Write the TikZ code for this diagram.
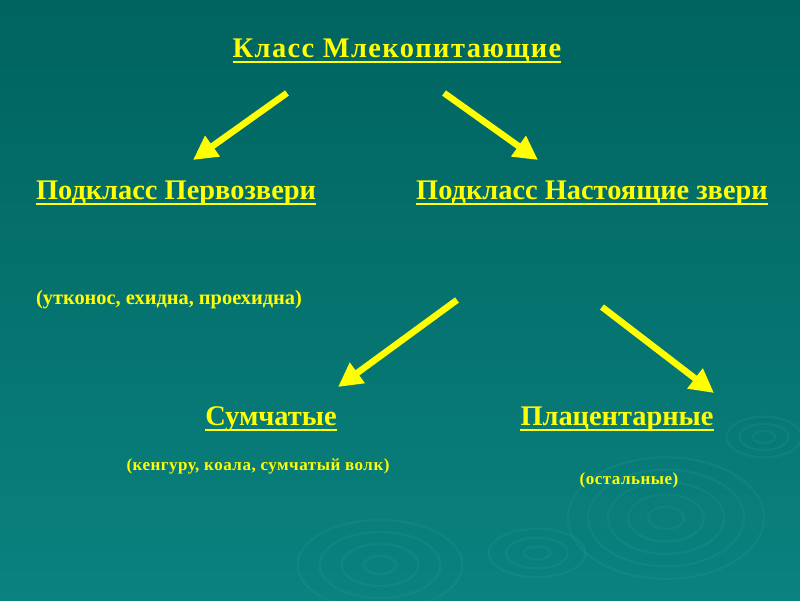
\documentclass[tikz,border=0pt]{standalone}
\usepackage{fontspec}
\setmainfont{Liberation Serif}
\usetikzlibrary{arrows.meta}
\definecolor{bgtop}{HTML}{00635F}
\definecolor{bgbot}{HTML}{0A827F}
\definecolor{txt}{HTML}{FFFF00}
\definecolor{ripple}{HTML}{3FA7A5}
\tikzset{
  head/.style={inner sep=0pt, anchor=base, text=txt, font=\bfseries\fontsize{28.4}{32}\selectfont},
  title/.style={inner sep=0pt, anchor=base, text=txt, font=\bfseries\fontsize{28.4}{32}\selectfont\addfontfeatures{LetterSpace=5}},
  note/.style={inner sep=0pt, anchor=base, text=txt, font=\bfseries\fontsize{20.4}{24}\selectfont},
  smallnote/.style={inner sep=0pt, anchor=base, text=txt, font=\bfseries\fontsize{17}{20}\selectfont\addfontfeatures{LetterSpace=3}},
  uline/.style={draw=txt, line width=2.2pt},
  arr/.style={draw=txt, line width=6.5pt, -{Triangle[length=24pt,width=24pt]}, shorten >=0pt},
  rip/.style={draw=ripple, line width=2.2pt, opacity=0.14},
}
\begin{document}
\begin{tikzpicture}[x=1pt,y=-1pt]
\useasboundingbox (0,0) rectangle (800,600);
\shade[top color=bgtop, bottom color=bgbot] (0,0) rectangle (800,600);
% ripples
\foreach \r in {18,38,58,78,98}{\draw[rip] (666,518) ellipse ({\r*1.0} and {\r*0.62});}
\foreach \r in {10,22,34}{\draw[rip] (764,437) ellipse ({\r*1.1} and {\r*0.6});}
\foreach \r in {15,35,55,75}{\draw[rip] (380,565) ellipse ({\r*1.1} and {\r*0.6});}
\foreach \r in {12,28,44}{\draw[rip] (537,553) ellipse ({\r*1.1} and {\r*0.55});}
% texts
\node[title] (cls) at (397,57) {Класс Млекопитающие};
\node[head] (sub1) at (176,199) {Подкласс Первозвери};
\node[head] (sub2) at (592,199) {Подкласс Настоящие звери};
\node[note] (ex1) at (169,304) {(утконос, ехидна, проехидна)};
\node[head] (marsup) at (271,425) {Сумчатые};
\node[head] (placent) at (617,425) {Плацентарные};
\node[smallnote] (ex2) at (258,470) {(кенгуру, коала, сумчатый волк)};
\node[smallnote] (ex3) at (629,484) {(остальные)};
\foreach \n in {cls,sub1,sub2,marsup,placent}{
  \draw[uline] ([yshift=-5pt]\n.base west) -- ([yshift=-5pt]\n.base east);
}
% arrow end points
\coordinate (a1s) at (287,93); \coordinate (a1e) at (193,160);
\coordinate (a2s) at (444,93); \coordinate (a2e) at (538,160);
\coordinate (a3s) at (457,300); \coordinate (a3e) at (338,387);
\coordinate (a4s) at (602,307); \coordinate (a4e) at (714,393);
\draw[arr] (a1s) -- (a1e);
\draw[arr] (a2s) -- (a2e);
\draw[arr] (a3s) -- (a3e);
\draw[arr] (a4s) -- (a4e);
\end{tikzpicture}
\end{document}
